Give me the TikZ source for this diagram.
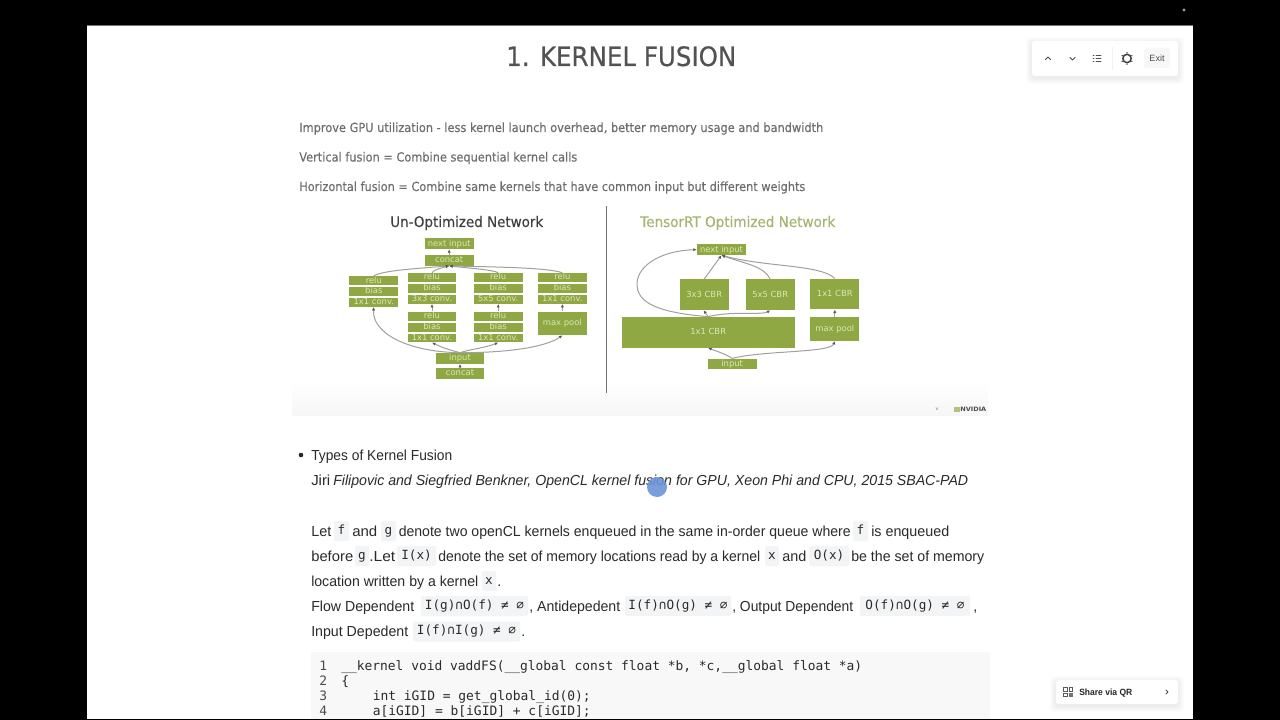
\documentclass[tikz,border=0pt]{standalone}
\usepackage{fontspec}
\usepackage{graphicx}
\setmainfont{Liberation Sans}
\setmonofont{DejaVu Sans Mono}
\newfontfamily\djsans{DejaVu Sans}
\newfontfamily\djtitle[FakeBold=0.5]{DejaVu Sans}
\newfontfamily\djslide[FakeBold=0.2]{DejaVu Sans}
\usetikzlibrary{arrows.meta}
\definecolor{gboxc}{HTML}{8FA843}
\definecolor{gtxt}{HTML}{DCE6B8}
\definecolor{slidetxt}{HTML}{6E6E6E}
\definecolor{chipc}{HTML}{F3F4F5}
\definecolor{bodytxt}{HTML}{2A2A2A}
\definecolor{conn}{HTML}{A0A0A0}
\definecolor{titlegreen}{HTML}{A5B672}
\definecolor{cursorc}{HTML}{6A94D8}
\newlength\fitlen
\newcounter{tn}
\newcommand\fw[2]{\settowidth\fitlen{#2}\pgfmathsetmacro\fitr{#1*0.75/\fitlen}\scalebox{\fitr}[1]{#2}}
\newcommand\tx[6]{\stepcounter{tn}\node[anchor=base west,inner sep=0pt,font=#4,text=#5] (t\arabic{tn}) at (#1,#2) {\fw{#3}{#6}};}
\newcommand\bodyline[4]{\tx{#1}{#2}{#3}{\fontsize{10.9pt}{12pt}\selectfont}{bodytxt}{#4}}
\newcommand\chip[4]{\stepcounter{tn}\node[chipbox,minimum width={(#2-#1)*0.75pt}] (t\arabic{tn}) at ({(#1+#2)/2},#3) {#4};}
\newcommand\gb[6]{\node[gbox,minimum width={(#4-#2)*0.75pt},minimum height={(#5-#3)*0.75pt}] (#1) at ({(#2+#4)/2},{(#3+#5)/2}) {#6};}
\tikzset{
  gbox/.style={fill=gboxc,draw=none,inner sep=0pt,text=gtxt,text height=4.8pt,text depth=1.2pt,font=\djsans\fontsize{6.3pt}{7pt}\selectfont},
  chipbox/.style={fill=chipc,rounded corners=1.5pt,inner sep=0pt,minimum height=15pt,text height=7.4pt,text depth=2.2pt,text=bodytxt,font=\ttfamily\fontsize{9.5pt}{11pt}\selectfont},
  arr/.style={draw=conn,line width=0.75pt,-{Latex[length=2.6pt,width=2.4pt,color=black!65]}},
  codetxt/.style={anchor=base west,inner sep=0pt,text=bodytxt,font=\ttfamily\fontsize{9.7pt}{11pt}\selectfont},
  panel/.style={fill=white,rounded corners=2pt,draw=none},
  icon/.style={draw=black!70,line width=0.7pt,line cap=round,line join=round}
}
\begin{document}
\begin{tikzpicture}[x=0.75pt,y=-0.75pt]
\useasboundingbox (0,0) rectangle (1280,720);
\fill[black] (0,0) rectangle (1280,720);
\fill[white] (87,26) rectangle (1193,718.5);
\fill[black!55] (87,25.5) rectangle (1193,26.2);
\fill[black!40!orange!60!white] (1184,10) circle (1.6);

% slide
\shade[top color=white,bottom color=black!3.5] (292,380) rectangle (988,415);
\tx{506}{66}{230}{\djtitle\fontsize{20pt}{24pt}\selectfont}{black!68}{1. KERNEL FUSION}
\tx{299}{132}{524}{\djslide\fontsize{9.4pt}{11pt}\selectfont}{slidetxt}{Improve GPU utilization - less kernel launch overhead, better memory usage and bandwidth}
\tx{299}{161.5}{278}{\djslide\fontsize{9.4pt}{11pt}\selectfont}{slidetxt}{Vertical fusion = Combine sequential kernel calls}
\tx{299}{191}{506}{\djslide\fontsize{9.4pt}{11pt}\selectfont}{slidetxt}{Horizontal fusion = Combine same kernels that have common input but different weights}
\tx{390}{227}{153}{\djslide\fontsize{11pt}{13pt}\selectfont}{black!75}{Un-Optimized Network}
\tx{640}{227}{195}{\djslide\fontsize{11pt}{13pt}\selectfont}{titlegreen}{TensorRT Optimized Network}
\draw[black!55,line width=0.8pt] (606.5,206) -- (606.5,393);

% un-optimized
\gb{ln}{424.7}{238.3}{473.7}{249}{next input}
\gb{lc}{424.7}{255}{473.7}{265.7}{concat}
\gb{aR}{349.3}{276}{398.3}{285.3}{relu}
\gb{aB}{349.3}{287}{398.3}{296}{bias}
\gb{aC}{349.3}{298}{398.3}{306.7}{1x1 conv.}
\gb{bR}{407.7}{273}{456.3}{282}{relu}
\gb{bB}{407.7}{284}{456.3}{293}{bias}
\gb{bC}{407.7}{295}{456.3}{303.7}{3x3 conv.}
\gb{bR2}{407.7}{311.7}{456.3}{320.7}{relu}
\gb{bB2}{407.7}{322.7}{456.3}{331.7}{bias}
\gb{bC2}{407.7}{333.7}{456.3}{342.3}{1x1 conv.}
\gb{cR}{473.7}{273}{522.7}{282}{relu}
\gb{cB}{473.7}{284}{522.7}{293}{bias}
\gb{cC}{473.7}{295}{522.7}{303.7}{5x5 conv.}
\gb{cR2}{473.7}{311.7}{522.7}{320.7}{relu}
\gb{cB2}{473.7}{322.7}{522.7}{331.7}{bias}
\gb{cC2}{473.7}{333.7}{522.7}{342.3}{1x1 conv.}
\gb{dR}{538}{273}{586.7}{282}{relu}
\gb{dB}{538}{284}{586.7}{293}{bias}
\gb{dC}{538}{295}{586.7}{303.7}{1x1 conv.}
\gb{dP}{538}{311.7}{586.7}{335}{max pool}
\gb{li}{435.7}{353}{484.3}{363.7}{input}
\gb{lc2}{435.7}{368.3}{484.3}{378.7}{concat}

\draw[arr] (lc.north) -- (ln.south);
\draw[arr] (lc2.north) -- (li.south);
\draw[arr] (bR2.north) -- (bC.south);
\draw[arr] (cR2.north) -- (cC.south);
\draw[arr] (dP.north) -- (dC.south);
\draw[arr] (aR.north) .. controls +(10,-5) and +(-40,3) .. (lc.south);
\draw[arr] (bR.north) .. controls +(2,-3) and +(-8,2) .. (lc.south);
\draw[arr] (cR.north) .. controls +(-5,-3) and +(18,2) .. (lc.south);
\draw[arr] (dR.north) .. controls +(-15,-5) and +(50,1) .. (lc.south);
\draw[arr] (li.north) .. controls +(-10,-3) and +(12,6) .. (bC2.south);
\draw[arr] (li.north) .. controls +(8,-3) and +(-12,5) .. (cC2.south);
\draw[arr] (li.north) .. controls +(-55,-1) and +(-2,25) .. (aC.south);
\draw[arr] (li.north) .. controls +(60,0) and +(-12,9) .. (dP.south);

% optimized
\gb{rn}{697}{244.3}{746}{255}{next input}
\gb{r3}{679.7}{279.3}{728.7}{310}{3x3 CBR}
\gb{r5}{745.7}{279.3}{794.7}{310}{5x5 CBR}
\gb{r1}{810.3}{278.7}{859.3}{309.3}{1x1 CBR}
\gb{rb}{621.7}{317}{794.7}{347.7}{1x1 CBR}
\gb{rp}{810.3}{317}{859.3}{340.7}{max pool}
\gb{ri}{707.7}{358.7}{756.7}{369.3}{input}
\coordinate (loopw) at (637,283);

\draw[arr] (r3.north) -- (rn.south);
\draw[arr] (r5.north) .. controls +(-6,-13) and +(22,8) .. (rn.south);
\draw[arr] (r1.north) .. controls +(-14,-14) and +(45,12) .. (rn.south);
\draw[arr] (rp.north) -- (r1.south);
\draw[arr] (ri.north) .. controls +(-6,-4) and +(8,3) .. (rb.south);
\draw[arr] (ri.north) .. controls +(30,-8) and +(-4,12) .. (rp.south);
\draw[arr] (rb.north) -- ([xshift=-0.5pt]r3.south);
\draw[arr] (rb.north) .. controls +(22,-6) and +(-8,5) .. (r5.south);
\draw[arr] (rb.north) .. controls +(-45,-4) and +(-1,22) .. (loopw) .. controls +(1,-18) and +(-35,1) .. (rn.west);

% nvidia footer
\node[inner sep=0pt,font=\djsans\fontsize{3.6pt}{4pt}\selectfont,text=black!55] (pgno) at (937,409) {v};
\fill[gboxc!70!white] (954,406.5) rectangle (960,411.5);
\node[anchor=west,inner sep=0pt,font=\djsans\bfseries\fontsize{4.5pt}{5pt}\selectfont,text=black!70] (nv) at (960,409) {\fw{26}{NVIDIA}};

% body
\fill[black!85] (301,455) circle (2.3);
\bodyline{311}{460}{141}{Types of Kernel Fusion}
\bodyline{311}{485}{19}{Jiri}
\bodyline{333}{485}{635}{\itshape Filipovic and Siegfried Benkner, OpenCL kernel fusion for GPU, Xeon Phi and CPU, 2015 SBAC-PAD}

\chip{334}{349}{531}{f}
\chip{381}{396}{531}{g}
\chip{853}{868}{531}{f}
\bodyline{311}{536}{20}{Let}
\bodyline{352}{536}{25}{and}
\bodyline{398.5}{536}{452}{denote two openCL kernels enqueued in the same in-order queue where}
\bodyline{871}{536}{78}{is enqueued}

\chip{355}{369}{556}{g}
\chip{397}{436}{556}{I(x)}
\chip{765}{779}{556}{x}
\chip{809}{849}{556}{O(x)}
\bodyline{311}{561}{42}{before}
\bodyline{369}{561}{26}{.Let}
\bodyline{438}{561}{322}{denote the set of memory locations read by a kernel}
\bodyline{782}{561}{24}{and}
\bodyline{851}{561}{133}{be the set of memory}

\chip{482}{496}{581}{x}
\bodyline{311}{586}{167}{location written by a kernel}
\bodyline{497}{586}{4}{.}

\chip{421}{528}{606}{I(g)∩O(f) ≠ ∅}
\chip{625}{731}{606}{I(f)∩O(g) ≠ ∅}
\chip{860}{970}{606}{O(f)∩O(g) ≠ ∅}
\bodyline{311}{611}{103}{Flow Dependent}
\bodyline{529}{611}{91}{, Antidepedent}
\bodyline{732}{611}{121}{, Output Dependent}
\bodyline{973}{611}{4}{,}

\chip{413}{520}{631.5}{I(f)∩I(g) ≠ ∅}
\bodyline{311}{636.5}{97}{Input Depedent}
\bodyline{521}{636.5}{4}{.}

% code block
\fill[chipc!60!white] (311,652) rectangle (990,718.5);
\foreach \n/\yy in {1/670.5,2/685.5,3/700.5,4/715.5}{
  \node[codetxt,text=black!70] (ln\n) at (319,\yy) {\n};
}
\node[codetxt] (c1) at (341,670.5) {\fw{521}{\_\_kernel void vaddFS(\_\_global const float *b, *c,\_\_global float *a)}};
\node[codetxt] (c2) at (341,685.5) {\{};
\node[codetxt] (c3) at (372.5,700.5) {int iGID = get\_global\_id(0);};
\node[codetxt] (c4) at (372.5,715.5) {a[iGID] = b[iGID] + c[iGID];};

% cursor
\fill[cursorc,fill opacity=0.9] (657,487) circle (10);

% control panel
\foreach \g in {1,2,...,6}{\fill[black,opacity=0.01,rounded corners=3pt] (1032-\g,41-\g+2) rectangle (1178+\g,76+\g+2);}
\fill[panel] (1032,41) rectangle (1178,76);
\fill[black!3,rounded corners=2pt] (1144,48) rectangle (1170,68);
\node[inner sep=0pt,font=\fontsize{6.8pt}{8pt}\selectfont,text=black!70] (exit) at (1157,58.5) {Exit};
\draw[icon] (1045.5,59.5) -- (1048,57) -- (1050.5,59.5);
\draw[icon] (1070,57.5) -- (1072.5,60) -- (1075,57.5);
\foreach \yy in {55.5,58.5,61.5}{\draw[icon,line width=0.55pt] (1093,\yy) -- (1094,\yy) (1096,\yy) -- (1101,\yy);}
\draw[black!5,line width=0.5pt] (1112,47) -- (1112,70);
\draw[black!75,line width=1.1pt] (1127,58.5) circle (4.2);
\foreach \a in {30,90,...,330}{\fill[black!75] (1127,58.5) ++(\a:5.6) circle (0.8);}

% share panel
\foreach \g in {1,2,...,6}{\fill[black,opacity=0.01,rounded corners=3pt] (1056-\g,680-\g+2) rectangle (1178+\g,704+\g+2);}
\fill[panel] (1056,680) rectangle (1178,704);
\draw[black!65,line width=0.6pt] (1063.5,687.5) rectangle (1067,691) (1069,687.5) rectangle (1072.5,691) (1063.5,693) rectangle (1067,696.5);
\fill[black!55] (1069,693) rectangle (1072.5,696.5);
\node[anchor=base west,inner sep=0pt,font=\bfseries\fontsize{6.8pt}{8pt}\selectfont,text=black!85] (qr) at (1079,695) {\fw{53}{Share via QR}};
\draw[icon] (1166,690) -- (1168,692) -- (1166,694);
\end{tikzpicture}
\end{document}
